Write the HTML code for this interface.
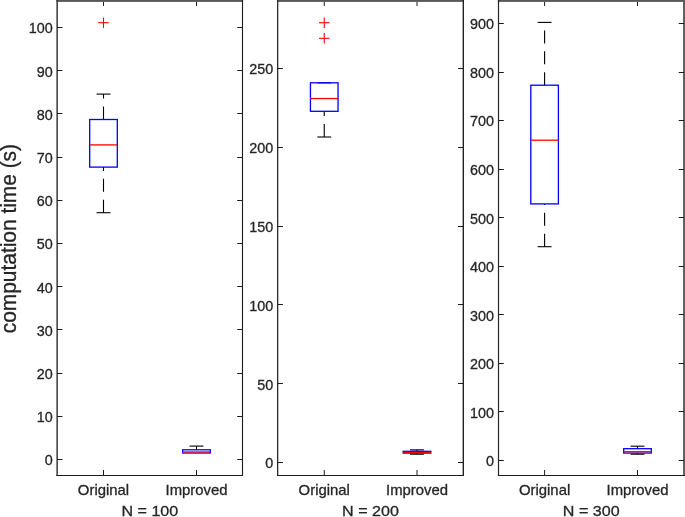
<!DOCTYPE html>
<html><head><meta charset="utf-8"><title>Computation time box plots</title>
<style>html,body{margin:0;padding:0;background:#fff;overflow:hidden}svg{display:block}</style></head>
<body>
<svg width="685" height="517" viewBox="0 0 685 517" font-family="'Liberation Sans', Arial, Helvetica, sans-serif" fill="#262626">
<rect width="685" height="517" fill="#fff"/>
<g id="axes1">
<line x1="103.50" y1="119.50" x2="103.50" y2="94.10" stroke="#000" stroke-width="1.1" stroke-dasharray="13 7.9"/>
<line x1="103.50" y1="212.70" x2="103.50" y2="167.10" stroke="#000" stroke-width="1.1" stroke-dasharray="13 7.9"/>
<line x1="96.55" y1="94.10" x2="110.45" y2="94.10" stroke="#000" stroke-width="1.1" />
<line x1="96.55" y1="212.70" x2="110.45" y2="212.70" stroke="#000" stroke-width="1.1" />
<rect x="89.70" y="119.50" width="27.60" height="47.60" fill="none" stroke="#0000ff" stroke-width="1.3"/>
<line x1="89.70" y1="144.90" x2="117.30" y2="144.90" stroke="#ff0000" stroke-width="1.3" />
<line x1="98.30" y1="22.70" x2="108.70" y2="22.70" stroke="#ff0000" stroke-width="1.1" />
<line x1="103.50" y1="17.50" x2="103.50" y2="27.90" stroke="#ff0000" stroke-width="1.1" />
<line x1="196.50" y1="449.80" x2="196.50" y2="446.10" stroke="#000" stroke-width="1.1" stroke-dasharray="13 7.9"/>
<line x1="189.55" y1="446.10" x2="203.45" y2="446.10" stroke="#000" stroke-width="1.1" />
<rect x="182.70" y="449.80" width="27.60" height="3.20" fill="none" stroke="#0000ff" stroke-width="1.3"/>
<line x1="182.70" y1="452.00" x2="210.30" y2="452.00" stroke="#ff0000" stroke-width="1.3" />
<rect x="56.40" y="0" width="186.65" height="1.9" fill="#585858"/>
<line x1="57.15" y1="0.00" x2="57.15" y2="476.05" stroke="#3a3a3a" stroke-width="1.5" />
<line x1="242.50" y1="0.00" x2="242.50" y2="476.05" stroke="#1c1c1c" stroke-width="1.1" />
<line x1="56.40" y1="475.50" x2="243.05" y2="475.50" stroke="#1c1c1c" stroke-width="1.1" />
<line x1="103.50" y1="475.50" x2="103.50" y2="470.00" stroke="#1c1c1c" stroke-width="1.0" />
<line x1="103.50" y1="1.90" x2="103.50" y2="6.00" stroke="#1c1c1c" stroke-width="1.0" />
<text transform="translate(103.50,494.9) scale(1.02,1)" font-size="14.6" text-anchor="middle" stroke="#262626" stroke-width="0.3">Original</text>
<line x1="196.50" y1="475.50" x2="196.50" y2="470.00" stroke="#1c1c1c" stroke-width="1.0" />
<line x1="196.50" y1="1.90" x2="196.50" y2="6.00" stroke="#1c1c1c" stroke-width="1.0" />
<text transform="translate(196.50,494.9) scale(1.02,1)" font-size="14.6" text-anchor="middle" stroke="#262626" stroke-width="0.3">Improved</text>
<text transform="translate(149.82,515.9) scale(1.045,1)" font-size="15.4" text-anchor="middle" stroke="#262626" stroke-width="0.3">N = 100</text>
<line x1="57.15" y1="459.50" x2="62.45" y2="459.50" stroke="#1c1c1c" stroke-width="1.0" />
<line x1="242.50" y1="459.50" x2="237.20" y2="459.50" stroke="#1c1c1c" stroke-width="1.0" />
<text transform="translate(52.75,465.30) scale(0.985,1)" font-size="14.6" text-anchor="end" stroke="#262626" stroke-width="0.3">0</text>
<line x1="57.15" y1="416.50" x2="62.45" y2="416.50" stroke="#1c1c1c" stroke-width="1.0" />
<line x1="242.50" y1="416.50" x2="237.20" y2="416.50" stroke="#1c1c1c" stroke-width="1.0" />
<text transform="translate(52.75,422.10) scale(0.985,1)" font-size="14.6" text-anchor="end" stroke="#262626" stroke-width="0.3">10</text>
<line x1="57.15" y1="373.50" x2="62.45" y2="373.50" stroke="#1c1c1c" stroke-width="1.0" />
<line x1="242.50" y1="373.50" x2="237.20" y2="373.50" stroke="#1c1c1c" stroke-width="1.0" />
<text transform="translate(52.75,378.90) scale(0.985,1)" font-size="14.6" text-anchor="end" stroke="#262626" stroke-width="0.3">20</text>
<line x1="57.15" y1="329.50" x2="62.45" y2="329.50" stroke="#1c1c1c" stroke-width="1.0" />
<line x1="242.50" y1="329.50" x2="237.20" y2="329.50" stroke="#1c1c1c" stroke-width="1.0" />
<text transform="translate(52.75,335.70) scale(0.985,1)" font-size="14.6" text-anchor="end" stroke="#262626" stroke-width="0.3">30</text>
<line x1="57.15" y1="286.50" x2="62.45" y2="286.50" stroke="#1c1c1c" stroke-width="1.0" />
<line x1="242.50" y1="286.50" x2="237.20" y2="286.50" stroke="#1c1c1c" stroke-width="1.0" />
<text transform="translate(52.75,292.50) scale(0.985,1)" font-size="14.6" text-anchor="end" stroke="#262626" stroke-width="0.3">40</text>
<line x1="57.15" y1="243.50" x2="62.45" y2="243.50" stroke="#1c1c1c" stroke-width="1.0" />
<line x1="242.50" y1="243.50" x2="237.20" y2="243.50" stroke="#1c1c1c" stroke-width="1.0" />
<text transform="translate(52.75,249.30) scale(0.985,1)" font-size="14.6" text-anchor="end" stroke="#262626" stroke-width="0.3">50</text>
<line x1="57.15" y1="200.50" x2="62.45" y2="200.50" stroke="#1c1c1c" stroke-width="1.0" />
<line x1="242.50" y1="200.50" x2="237.20" y2="200.50" stroke="#1c1c1c" stroke-width="1.0" />
<text transform="translate(52.75,206.10) scale(0.985,1)" font-size="14.6" text-anchor="end" stroke="#262626" stroke-width="0.3">60</text>
<line x1="57.15" y1="157.50" x2="62.45" y2="157.50" stroke="#1c1c1c" stroke-width="1.0" />
<line x1="242.50" y1="157.50" x2="237.20" y2="157.50" stroke="#1c1c1c" stroke-width="1.0" />
<text transform="translate(52.75,162.90) scale(0.985,1)" font-size="14.6" text-anchor="end" stroke="#262626" stroke-width="0.3">70</text>
<line x1="57.15" y1="113.50" x2="62.45" y2="113.50" stroke="#1c1c1c" stroke-width="1.0" />
<line x1="242.50" y1="113.50" x2="237.20" y2="113.50" stroke="#1c1c1c" stroke-width="1.0" />
<text transform="translate(52.75,119.70) scale(0.985,1)" font-size="14.6" text-anchor="end" stroke="#262626" stroke-width="0.3">80</text>
<line x1="57.15" y1="70.50" x2="62.45" y2="70.50" stroke="#1c1c1c" stroke-width="1.0" />
<line x1="242.50" y1="70.50" x2="237.20" y2="70.50" stroke="#1c1c1c" stroke-width="1.0" />
<text transform="translate(52.75,76.50) scale(0.985,1)" font-size="14.6" text-anchor="end" stroke="#262626" stroke-width="0.3">90</text>
<line x1="57.15" y1="27.50" x2="62.45" y2="27.50" stroke="#1c1c1c" stroke-width="1.0" />
<line x1="242.50" y1="27.50" x2="237.20" y2="27.50" stroke="#1c1c1c" stroke-width="1.0" />
<text transform="translate(52.75,33.30) scale(0.985,1)" font-size="14.6" text-anchor="end" stroke="#262626" stroke-width="0.3">100</text>
</g>
<g id="axes2">
<line x1="324.25" y1="137.00" x2="324.25" y2="111.30" stroke="#000" stroke-width="1.1" stroke-dasharray="13 7.9"/>
<line x1="317.30" y1="82.80" x2="331.20" y2="82.80" stroke="#000" stroke-width="1.1" />
<line x1="317.30" y1="137.00" x2="331.20" y2="137.00" stroke="#000" stroke-width="1.1" />
<rect x="310.45" y="82.80" width="27.60" height="28.50" fill="none" stroke="#0000ff" stroke-width="1.3"/>
<line x1="310.45" y1="98.55" x2="338.05" y2="98.55" stroke="#ff0000" stroke-width="1.3" />
<line x1="319.05" y1="22.70" x2="329.45" y2="22.70" stroke="#ff0000" stroke-width="1.1" />
<line x1="324.25" y1="17.50" x2="324.25" y2="27.90" stroke="#ff0000" stroke-width="1.1" />
<line x1="319.05" y1="38.30" x2="329.45" y2="38.30" stroke="#ff0000" stroke-width="1.1" />
<line x1="324.25" y1="33.10" x2="324.25" y2="43.50" stroke="#ff0000" stroke-width="1.1" />
<line x1="417.00" y1="451.30" x2="417.00" y2="449.85" stroke="#000" stroke-width="1.1" stroke-dasharray="13 7.9"/>
<line x1="417.00" y1="454.20" x2="417.00" y2="453.10" stroke="#000" stroke-width="1.1" stroke-dasharray="13 7.9"/>
<line x1="410.05" y1="449.85" x2="423.95" y2="449.85" stroke="#000" stroke-width="1.1" />
<line x1="410.05" y1="454.20" x2="423.95" y2="454.20" stroke="#000" stroke-width="1.1" />
<rect x="403.20" y="451.30" width="27.60" height="1.80" fill="none" stroke="#0000ff" stroke-width="1.3"/>
<line x1="403.20" y1="452.55" x2="430.80" y2="452.55" stroke="#ff0000" stroke-width="1.3" />
<rect x="277.00" y="0" width="186.98" height="1.9" fill="#585858"/>
<line x1="277.65" y1="0.00" x2="277.65" y2="476.05" stroke="#2a2a2a" stroke-width="1.3" />
<line x1="463.30" y1="0.00" x2="463.30" y2="476.05" stroke="#1c1c1c" stroke-width="1.35" />
<line x1="277.00" y1="475.50" x2="463.98" y2="475.50" stroke="#1c1c1c" stroke-width="1.1" />
<line x1="324.25" y1="475.50" x2="324.25" y2="470.00" stroke="#1c1c1c" stroke-width="1.0" />
<line x1="324.25" y1="1.90" x2="324.25" y2="6.00" stroke="#1c1c1c" stroke-width="1.0" />
<text transform="translate(324.25,494.9) scale(1.02,1)" font-size="14.6" text-anchor="middle" stroke="#262626" stroke-width="0.3">Original</text>
<line x1="417.00" y1="475.50" x2="417.00" y2="470.00" stroke="#1c1c1c" stroke-width="1.0" />
<line x1="417.00" y1="1.90" x2="417.00" y2="6.00" stroke="#1c1c1c" stroke-width="1.0" />
<text transform="translate(417.00,494.9) scale(1.02,1)" font-size="14.6" text-anchor="middle" stroke="#262626" stroke-width="0.3">Improved</text>
<text transform="translate(370.48,515.9) scale(1.045,1)" font-size="15.4" text-anchor="middle" stroke="#262626" stroke-width="0.3">N = 200</text>
<line x1="277.65" y1="462.50" x2="282.95" y2="462.50" stroke="#1c1c1c" stroke-width="1.0" />
<line x1="463.30" y1="462.50" x2="458.00" y2="462.50" stroke="#1c1c1c" stroke-width="1.0" />
<text transform="translate(273.25,468.30) scale(0.985,1)" font-size="14.6" text-anchor="end" stroke="#262626" stroke-width="0.3">0</text>
<line x1="277.65" y1="383.50" x2="282.95" y2="383.50" stroke="#1c1c1c" stroke-width="1.0" />
<line x1="463.30" y1="383.50" x2="458.00" y2="383.50" stroke="#1c1c1c" stroke-width="1.0" />
<text transform="translate(273.25,389.50) scale(0.985,1)" font-size="14.6" text-anchor="end" stroke="#262626" stroke-width="0.3">50</text>
<line x1="277.65" y1="304.50" x2="282.95" y2="304.50" stroke="#1c1c1c" stroke-width="1.0" />
<line x1="463.30" y1="304.50" x2="458.00" y2="304.50" stroke="#1c1c1c" stroke-width="1.0" />
<text transform="translate(273.25,310.70) scale(0.985,1)" font-size="14.6" text-anchor="end" stroke="#262626" stroke-width="0.3">100</text>
<line x1="277.65" y1="226.50" x2="282.95" y2="226.50" stroke="#1c1c1c" stroke-width="1.0" />
<line x1="463.30" y1="226.50" x2="458.00" y2="226.50" stroke="#1c1c1c" stroke-width="1.0" />
<text transform="translate(273.25,231.90) scale(0.985,1)" font-size="14.6" text-anchor="end" stroke="#262626" stroke-width="0.3">150</text>
<line x1="277.65" y1="147.50" x2="282.95" y2="147.50" stroke="#1c1c1c" stroke-width="1.0" />
<line x1="463.30" y1="147.50" x2="458.00" y2="147.50" stroke="#1c1c1c" stroke-width="1.0" />
<text transform="translate(273.25,153.10) scale(0.985,1)" font-size="14.6" text-anchor="end" stroke="#262626" stroke-width="0.3">200</text>
<line x1="277.65" y1="68.50" x2="282.95" y2="68.50" stroke="#1c1c1c" stroke-width="1.0" />
<line x1="463.30" y1="68.50" x2="458.00" y2="68.50" stroke="#1c1c1c" stroke-width="1.0" />
<text transform="translate(273.25,74.30) scale(0.985,1)" font-size="14.6" text-anchor="end" stroke="#262626" stroke-width="0.3">250</text>
</g>
<g id="axes3">
<line x1="544.60" y1="85.20" x2="544.60" y2="22.40" stroke="#000" stroke-width="1.1" stroke-dasharray="13 7.9"/>
<line x1="544.60" y1="246.70" x2="544.60" y2="203.90" stroke="#000" stroke-width="1.1" stroke-dasharray="13 7.9"/>
<line x1="537.65" y1="22.40" x2="551.55" y2="22.40" stroke="#000" stroke-width="1.1" />
<line x1="537.65" y1="246.70" x2="551.55" y2="246.70" stroke="#000" stroke-width="1.1" />
<rect x="530.80" y="85.20" width="27.60" height="118.70" fill="none" stroke="#0000ff" stroke-width="1.3"/>
<line x1="530.80" y1="140.20" x2="558.40" y2="140.20" stroke="#ff0000" stroke-width="1.3" />
<line x1="637.50" y1="448.70" x2="637.50" y2="446.20" stroke="#000" stroke-width="1.1" stroke-dasharray="13 7.9"/>
<line x1="637.50" y1="454.20" x2="637.50" y2="453.05" stroke="#000" stroke-width="1.1" stroke-dasharray="13 7.9"/>
<line x1="630.55" y1="446.20" x2="644.45" y2="446.20" stroke="#000" stroke-width="1.1" />
<line x1="630.55" y1="454.20" x2="644.45" y2="454.20" stroke="#000" stroke-width="1.1" />
<rect x="623.70" y="448.70" width="27.60" height="4.35" fill="none" stroke="#0000ff" stroke-width="1.3"/>
<line x1="623.70" y1="451.70" x2="651.30" y2="451.70" stroke="#ff0000" stroke-width="1.3" />
<rect x="497.90" y="0" width="187.10" height="1.9" fill="#585858"/>
<line x1="498.50" y1="0.00" x2="498.50" y2="476.05" stroke="#262626" stroke-width="1.2" />
<rect x="683.05" y="0" width="2" height="476.05" fill="#5c5c5c"/>
<line x1="497.90" y1="475.50" x2="685.00" y2="475.50" stroke="#1c1c1c" stroke-width="1.1" />
<line x1="544.60" y1="475.50" x2="544.60" y2="470.00" stroke="#1c1c1c" stroke-width="1.0" />
<line x1="544.60" y1="1.90" x2="544.60" y2="6.00" stroke="#1c1c1c" stroke-width="1.0" />
<text transform="translate(544.60,494.9) scale(1.02,1)" font-size="14.6" text-anchor="middle" stroke="#262626" stroke-width="0.3">Original</text>
<line x1="637.50" y1="475.50" x2="637.50" y2="470.00" stroke="#1c1c1c" stroke-width="1.0" />
<line x1="637.50" y1="1.90" x2="637.50" y2="6.00" stroke="#1c1c1c" stroke-width="1.0" />
<text transform="translate(637.50,494.9) scale(1.02,1)" font-size="14.6" text-anchor="middle" stroke="#262626" stroke-width="0.3">Improved</text>
<text transform="translate(591.25,515.9) scale(1.045,1)" font-size="15.4" text-anchor="middle" stroke="#262626" stroke-width="0.3">N = 300</text>
<line x1="498.50" y1="460.50" x2="503.80" y2="460.50" stroke="#1c1c1c" stroke-width="1.0" />
<line x1="684.00" y1="460.50" x2="678.70" y2="460.50" stroke="#1c1c1c" stroke-width="1.0" />
<text transform="translate(494.10,466.30) scale(0.985,1)" font-size="14.6" text-anchor="end" stroke="#262626" stroke-width="0.3">0</text>
<line x1="498.50" y1="411.50" x2="503.80" y2="411.50" stroke="#1c1c1c" stroke-width="1.0" />
<line x1="684.00" y1="411.50" x2="678.70" y2="411.50" stroke="#1c1c1c" stroke-width="1.0" />
<text transform="translate(494.10,417.74) scale(0.985,1)" font-size="14.6" text-anchor="end" stroke="#262626" stroke-width="0.3">100</text>
<line x1="498.50" y1="363.50" x2="503.80" y2="363.50" stroke="#1c1c1c" stroke-width="1.0" />
<line x1="684.00" y1="363.50" x2="678.70" y2="363.50" stroke="#1c1c1c" stroke-width="1.0" />
<text transform="translate(494.10,369.19) scale(0.985,1)" font-size="14.6" text-anchor="end" stroke="#262626" stroke-width="0.3">200</text>
<line x1="498.50" y1="314.50" x2="503.80" y2="314.50" stroke="#1c1c1c" stroke-width="1.0" />
<line x1="684.00" y1="314.50" x2="678.70" y2="314.50" stroke="#1c1c1c" stroke-width="1.0" />
<text transform="translate(494.10,320.63) scale(0.985,1)" font-size="14.6" text-anchor="end" stroke="#262626" stroke-width="0.3">300</text>
<line x1="498.50" y1="266.50" x2="503.80" y2="266.50" stroke="#1c1c1c" stroke-width="1.0" />
<line x1="684.00" y1="266.50" x2="678.70" y2="266.50" stroke="#1c1c1c" stroke-width="1.0" />
<text transform="translate(494.10,272.08) scale(0.985,1)" font-size="14.6" text-anchor="end" stroke="#262626" stroke-width="0.3">400</text>
<line x1="498.50" y1="217.50" x2="503.80" y2="217.50" stroke="#1c1c1c" stroke-width="1.0" />
<line x1="684.00" y1="217.50" x2="678.70" y2="217.50" stroke="#1c1c1c" stroke-width="1.0" />
<text transform="translate(494.10,223.52) scale(0.985,1)" font-size="14.6" text-anchor="end" stroke="#262626" stroke-width="0.3">500</text>
<line x1="498.50" y1="169.50" x2="503.80" y2="169.50" stroke="#1c1c1c" stroke-width="1.0" />
<line x1="684.00" y1="169.50" x2="678.70" y2="169.50" stroke="#1c1c1c" stroke-width="1.0" />
<text transform="translate(494.10,174.97) scale(0.985,1)" font-size="14.6" text-anchor="end" stroke="#262626" stroke-width="0.3">600</text>
<line x1="498.50" y1="120.50" x2="503.80" y2="120.50" stroke="#1c1c1c" stroke-width="1.0" />
<line x1="684.00" y1="120.50" x2="678.70" y2="120.50" stroke="#1c1c1c" stroke-width="1.0" />
<text transform="translate(494.10,126.41) scale(0.985,1)" font-size="14.6" text-anchor="end" stroke="#262626" stroke-width="0.3">700</text>
<line x1="498.50" y1="72.50" x2="503.80" y2="72.50" stroke="#1c1c1c" stroke-width="1.0" />
<line x1="684.00" y1="72.50" x2="678.70" y2="72.50" stroke="#1c1c1c" stroke-width="1.0" />
<text transform="translate(494.10,77.86) scale(0.985,1)" font-size="14.6" text-anchor="end" stroke="#262626" stroke-width="0.3">800</text>
<line x1="498.50" y1="23.50" x2="503.80" y2="23.50" stroke="#1c1c1c" stroke-width="1.0" />
<line x1="684.00" y1="23.50" x2="678.70" y2="23.50" stroke="#1c1c1c" stroke-width="1.0" />
<text transform="translate(494.10,29.30) scale(0.985,1)" font-size="14.6" text-anchor="end" stroke="#262626" stroke-width="0.3">900</text>
</g>
<text transform="translate(16.3,238.6) rotate(-90) scale(1,1.045)" font-size="20.9" text-anchor="middle" stroke="#262626" stroke-width="0.3">computation time (s)</text>
</svg>
</body></html>
